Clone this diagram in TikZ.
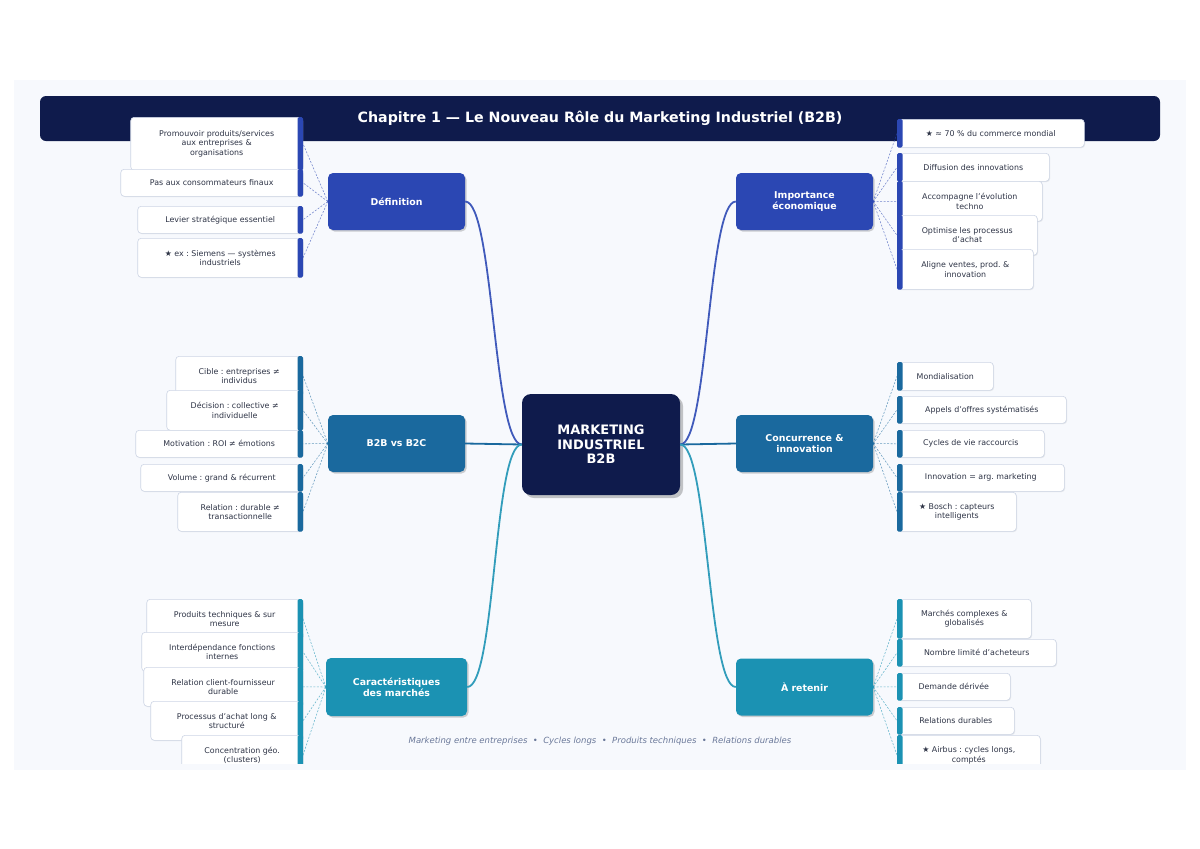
\documentclass[tikz,border=0pt]{standalone}
\usepackage{fontspec}
\setmainfont{DejaVu Sans}
\frenchspacing
\usetikzlibrary{calc,shadows}
\definecolor{navy}{HTML}{0F1B4C}
\definecolor{cblue}{HTML}{2B47B3}
\definecolor{csteel}{HTML}{1A699E}
\definecolor{cteal}{HTML}{1B92B3}
\definecolor{panel}{HTML}{F7F9FD}
\definecolor{leafborder}{HTML}{CDD5E5}
\definecolor{leaftext}{HTML}{2E3446}
\definecolor{foot}{HTML}{6A7899}
\newcommand\leafl[7]{%
  \node[leaf, anchor=north east, minimum width={303-#2}, minimum height={#4-#3}] (#1) at (303,#3) {#7};
  \fill[#5, rounded corners=1.5pt] ([xshift=-5.5pt]#1.north east) rectangle (#1.south east);
  \draw[leafline, #5] (#6.west) -- (#1.east);
}
\newcommand\leafr[7]{%
  \node[leaf, anchor=north west, minimum width={#2-897}, minimum height={#4-#3}] (#1) at (897,#3) {#7};
  \fill[#5, rounded corners=1.5pt] (#1.north west) rectangle ([xshift=5.5pt]#1.south west);
  \draw[leafline, #5] (#6.east) -- (#1.west);
}
\tikzset{
  leaf/.style={draw=leafborder, line width=0.6pt, fill=white, rounded corners=3.5pt, align=center,
    text=leaftext, font=\fontsize{7.9}{9.5}\selectfont, inner sep=0pt,
    drop shadow={shadow xshift=0.8pt, shadow yshift=-0.8pt, opacity=0.08, fill=black}},
  leafline/.style={line width=0.55pt, dash pattern=on 2pt off 1.5pt, draw opacity=0.65},
  branch/.style={rounded corners=5pt, align=center, text=white,
    font=\fontsize{9.4}{11}\selectfont\bfseries, minimum width=137pt, minimum height=57pt,
    drop shadow={shadow xshift=1.5pt, shadow yshift=-1.5pt, opacity=0.18, fill=black}},
  mainline/.style={line width=1.8pt},
}
\begin{document}
\begin{tikzpicture}[x=1pt,y=-1pt]
\useasboundingbox (0,0) rectangle (1200,849);
\fill[white] (0,0) rectangle (1200,849);
\fill[panel] (14,80) rectangle (1186,770);
% title
\node[fill=navy, rounded corners=6pt, minimum width=1120pt, minimum height=45pt, text=white,
  font=\fontsize{14.2}{16}\selectfont\bfseries] (title) at (600,118.5)
  {Chapitre 1 — Le Nouveau Rôle du Marketing Industriel (B2B)};
% center and branches
\node[fill=navy, rounded corners=9pt, minimum width=158pt, minimum height=101pt, align=center,
  text=white, font=\fontsize{13}{14.5}\selectfont\bfseries,
  drop shadow={shadow xshift=3pt, shadow yshift=-3pt, opacity=0.22, fill=black}] (center) at (601,444.5)
  {MARKETING\\INDUSTRIEL\\B2B};
\node[branch, fill=cblue] (def) at (396.5,201.5) {Définition};
\node[branch, fill=csteel] (b2b) at (396.5,443.5) {B2B vs B2C};
\node[branch, fill=cteal, minimum width=141pt, minimum height=58pt] (car) at (396.5,687) {Caractéristiques\\des marchés};
\node[branch, fill=cblue] (imp) at (804.5,201.5) {Importance\\économique};
\node[branch, fill=csteel] (conc) at (804.5,443.5) {Concurrence \&\\innovation};
\node[branch, fill=cteal] (ret) at (804.5,687) {À retenir};
% main connectors
\draw[mainline, cblue!90] (center.west) .. controls ($(center.west)+(-28.5,0)$) and ($(def.east)+(28.5,0)$) .. (def.east);
\draw[mainline, csteel] (center.west) -- (b2b.east);
\draw[mainline, cteal!90] (center.west) .. controls ($(center.west)+(-28.5,0)$) and ($(car.east)+(28.5,0)$) .. (car.east);
\draw[mainline, cblue!90] (center.east) .. controls ($(center.east)+(28,0)$) and ($(imp.west)+(-28,0)$) .. (imp.west);
\draw[mainline, csteel] (center.east) -- (conc.west);
\draw[mainline, cteal!90] (center.east) .. controls ($(center.east)+(28,0)$) and ($(ret.west)+(-28,0)$) .. (ret.west);
% footer
\node[text=foot, font=\fontsize{8.5}{10}\selectfont\itshape] (footer) at (600,741)
  {Marketing entre entreprises \ • \ Cycles longs \ • \ Produits techniques \ • \ Relations durables};
% leaves
\begin{scope}
\clip (14,80) rectangle (1186,763);
\leafl{d1}{131}{117}{170}{cblue}{def}{Promouvoir produits/services\\aux entreprises \&\\organisations}
\leafl{d2}{121}{169}{196}{cblue}{def}{Pas aux consommateurs finaux}
\leafl{d3}{138}{206}{233}{cblue}{def}{Levier stratégique essentiel}
\leafl{d4}{138}{238}{277}{cblue}{def}{★ ex : Siemens — systèmes\\industriels}
\leafl{b1}{176}{356}{395}{csteel}{b2b}{Cible : entreprises ≠\\individus}
\leafl{b2}{167}{390}{430}{csteel}{b2b}{Décision : collective ≠\\individuelle}
\leafl{b3}{136}{430}{457}{csteel}{b2b}{Motivation : ROI ≠ émotions}
\leafl{b4}{141}{464}{491}{csteel}{b2b}{Volume : grand \& récurrent}
\leafl{b5}{178}{492}{531}{csteel}{b2b}{Relation : durable ≠\\transactionnelle}
\leafl{c1}{147}{599}{638}{cteal}{car}{Produits techniques \& sur\\mesure}
\leafl{c2}{142}{632}{671}{cteal}{car}{Interdépendance fonctions\\internes}
\leafl{c3}{144}{667}{706}{cteal}{car}{Relation client-fournisseur\\durable}
\leafl{c4}{151}{701}{740}{cteal}{car}{Processus d'achat long \&\\structuré}
\leafl{c5}{182}{735}{775}{cteal}{car}{Concentration géo.\\(clusters)}
\leafr{i1}{1084}{119}{147}{cblue}{imp}{★ ≈ 70 \% du commerce mondial}
\leafr{i2}{1049}{153}{181}{cblue}{imp}{Diffusion des innovations}
\leafr{i3}{1042}{181}{221}{cblue}{imp}{Accompagne l'évolution\\techno}
\leafr{i4}{1037}{215}{255}{cblue}{imp}{Optimise les processus\\d'achat}
\leafr{i5}{1033}{249}{289}{cblue}{imp}{Aligne ventes, prod. \&\\innovation}
\leafr{k1}{993}{362}{390}{csteel}{conc}{Mondialisation}
\leafr{k2}{1066}{396}{423}{csteel}{conc}{Appels d'offres systématisés}
\leafr{k3}{1044}{430}{457}{csteel}{conc}{Cycles de vie raccourcis}
\leafr{k4}{1064}{464}{491}{csteel}{conc}{Innovation = arg. marketing}
\leafr{k5}{1016}{492}{531}{csteel}{conc}{★ Bosch : capteurs\\intelligents}
\leafr{r1}{1031}{599}{638}{cteal}{ret}{Marchés complexes \&\\globalisés}
\leafr{r2}{1056}{639}{666}{cteal}{ret}{Nombre limité d'acheteurs}
\leafr{r3}{1010}{673}{700}{cteal}{ret}{Demande dérivée}
\leafr{r4}{1014}{707}{734}{cteal}{ret}{Relations durables}
\leafr{r5}{1040}{735}{775}{cteal}{ret}{★ Airbus : cycles longs,\\comptés}
\end{scope}
\end{tikzpicture}
\end{document}
